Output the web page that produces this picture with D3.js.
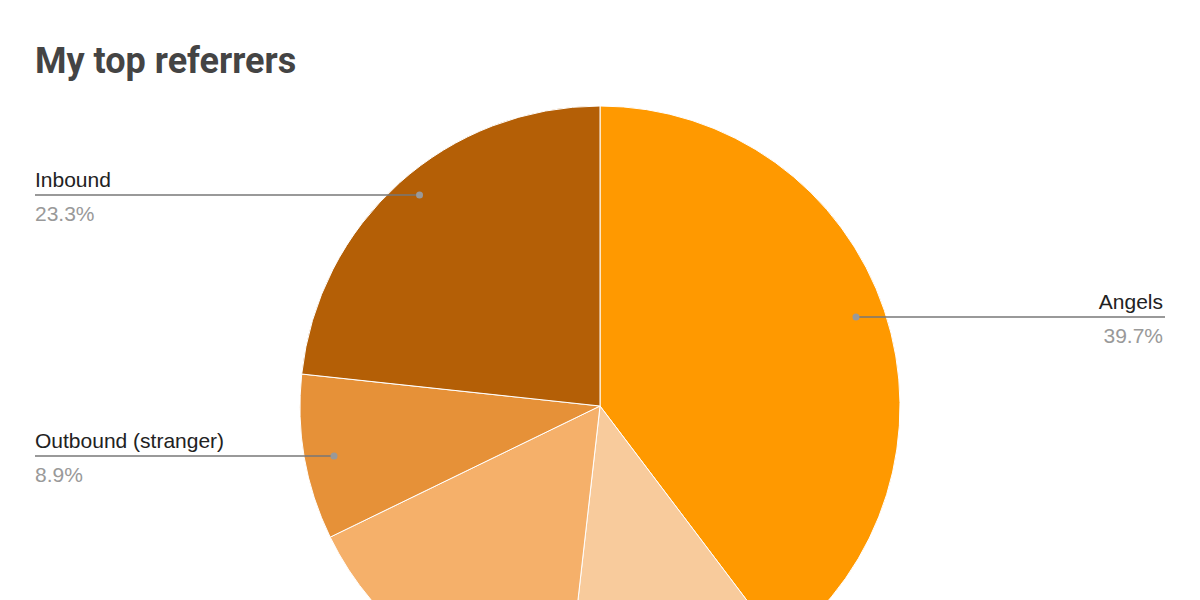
<!DOCTYPE html>
<html><head><meta charset="utf-8">
<script src="https://cdn.jsdelivr.net/npm/d3@7"></script>
<style>body{margin:0;background:#fff}svg{display:block}</style>
</head><body>
<svg id="c" width="1200" height="600"></svg>
<script>
const categories = ["Angels","Other A","Other B","Outbound (stranger)","Inbound"];
const values = [39.7,12.1,16.0,8.9,23.3];
const colors = ["#ff9900","#f8cb9c","#f5b06a","#e69138","#b45f06"];
const labelled = {0:{side:"right",y:317},3:{side:"left",y:456},4:{side:"left",y:195}};

const svg = d3.select("#c");
svg.append("text").attr("x",35).attr("y",73).attr("font-family","Roboto, Arial, sans-serif")
  .attr("font-weight","bold").attr("font-size",36).attr("fill","#444").text("My top referrers");

const cx=600, cy=406, r=300;
const pie = d3.pie().sort(null).value(d=>d)(values);
const arc = d3.arc().innerRadius(0).outerRadius(r);
const g = svg.append("g").attr("transform",`translate(${cx},${cy})`);
g.selectAll("path").data(pie).join("path").attr("d",arc)
  .attr("fill",(d,i)=>colors[i]).attr("stroke","#fff").attr("stroke-width",1);

const total = d3.sum(values);
pie.forEach((d,i)=>{
  const L = labelled[i]; if(!L) return;
  const a = (d.startAngle+d.endAngle)/2;
  const inner = d3.arc().innerRadius(r*0.9).outerRadius(r*0.9);
  let [px,py] = inner.centroid(d);
  px+=cx; py+=cy;
  const y = L.y;
  const x0 = L.side==="left"?35:1165;
  svg.append("line").attr("x1",x0).attr("x2",px).attr("y1",y).attr("y2",y).attr("stroke","#777").attr("stroke-width",1.5);
  svg.append("circle").attr("cx",px).attr("cy",y).attr("r",3.5).attr("fill","#999");
  const anchor = L.side==="left"?"start":"end";
  const tx = L.side==="left"?35:1163;
  svg.append("text").attr("x",tx).attr("y",y-8).attr("text-anchor",anchor)
    .attr("font-family","Arial, Liberation Sans, sans-serif").attr("font-size",21).attr("fill","#222").text(categories[i]);
  svg.append("text").attr("x",tx).attr("y",y+26).attr("text-anchor",anchor)
    .attr("font-family","Arial, Liberation Sans, sans-serif").attr("font-size",21).attr("fill","#999")
    .text((values[i]/total*100).toFixed(1)+"%");
});
</script>
</body></html>
